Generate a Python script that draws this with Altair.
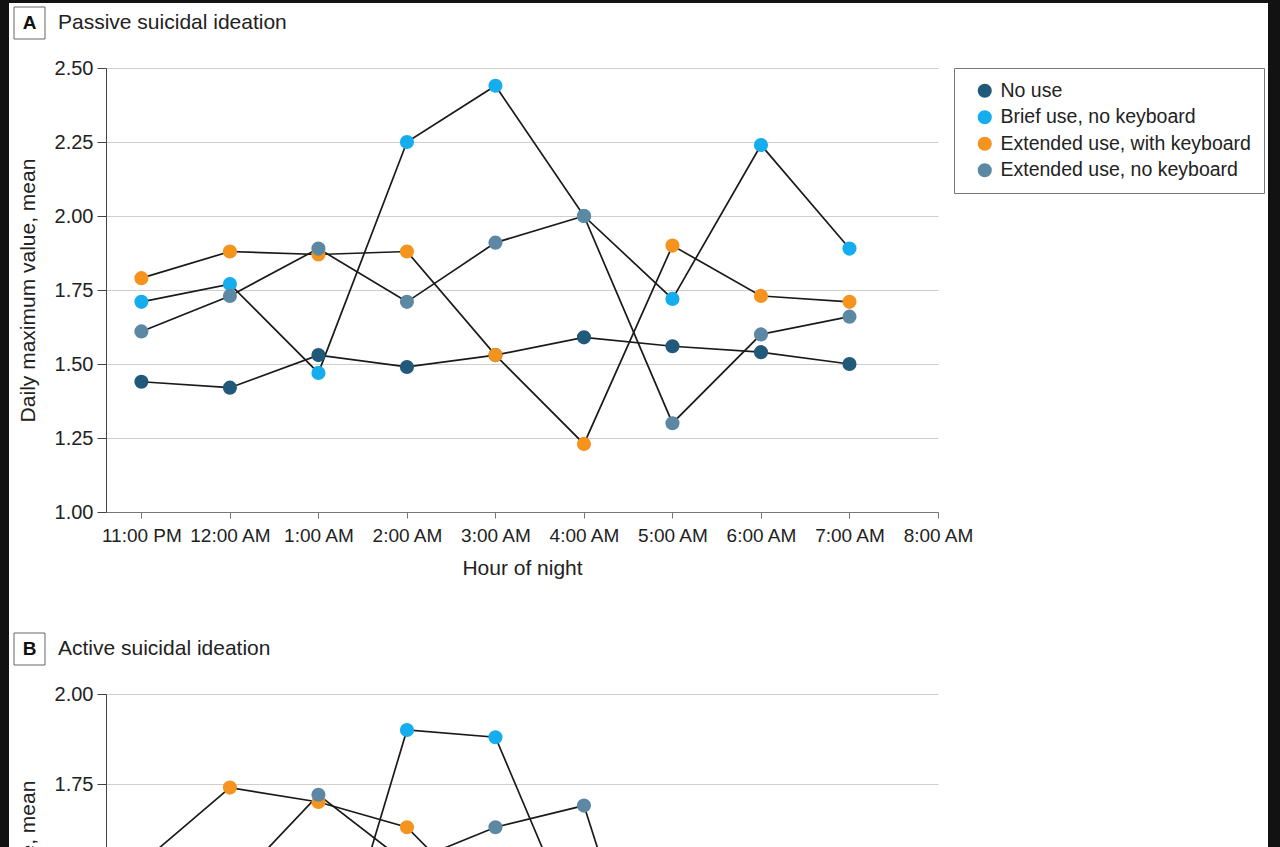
import altair as alt
import pandas as pd

# ---------------- data ----------------
hour_labels = ["11:00 PM", "12:00 AM", "1:00 AM", "2:00 AM", "3:00 AM",
               "4:00 AM", "5:00 AM", "6:00 AM", "7:00 AM", "8:00 AM"]
series_names = ["No use", "Brief use, no keyboard",
                "Extended use, with keyboard", "Extended use, no keyboard"]
series_colors = ["#21597a", "#15adee", "#f5931f", "#5d88a4"]

# Panel A: passive suicidal ideation (11 PM ... 7 AM)
passive_no_use = [1.44, 1.42, 1.53, 1.49, 1.53, 1.59, 1.56, 1.54, 1.50]
passive_brief = [1.71, 1.77, 1.47, 2.25, 2.44, 2.00, 1.72, 2.24, 1.89]
passive_ext_kb = [1.79, 1.88, 1.87, 1.88, 1.53, 1.23, 1.90, 1.73, 1.71]
passive_ext_nokb = [1.61, 1.73, 1.89, 1.71, 1.91, 2.00, 1.30, 1.60, 1.66]

# Panel B: active suicidal ideation (lower part is outside the picture; estimated)
active_no_use = [1.20, 1.18, 1.25, 1.22, 1.28, 1.30, 1.27, 1.29, 1.24]
active_brief = [1.35, 1.40, 1.08, 1.90, 1.88, 1.30, 1.25, 1.45, 1.35]
active_ext_kb = [1.53, 1.74, 1.70, 1.63, 1.38, 1.10, 1.40, 1.30, 1.28]
active_ext_nokb = [1.35, 1.46, 1.72, 1.53, 1.63, 1.69, 0.92, 1.20, 1.25]

y_ticks_a = [1.00, 1.25, 1.50, 1.75, 2.00, 2.25, 2.50]
y_ticks_b = [0.75, 1.00, 1.25, 1.50, 1.75, 2.00]

panel_a_letter = "A"
panel_a_title = "Passive suicidal ideation"
panel_b_letter = "B"
panel_b_title = "Active suicidal ideation"
x_title = "Hour of night"
y_title = "Daily maximum value, mean"

FONT = "Liberation Sans, Arial, sans-serif"
FRAME = "#121212"


def make_df(series_lists):
    rows = []
    for name, vals in zip(series_names, series_lists):
        for i, v in enumerate(vals):
            rows.append({"hour": i, "series": name, "value": v})
    return pd.DataFrame(rows)


label_expr = "[" + ",".join("'" + s + "'" for s in hour_labels) + "][datum.value]"


def panel(df, y_domain, y_ticks, letter, title, height, show_legend,
          frame_top, frame_bottom, top_strip, y_title_pos):
    x_enc = alt.X(
        "hour:Q",
        scale=alt.Scale(domain=[-0.4, 9], nice=False, zero=False),
        axis=alt.Axis(values=list(range(len(hour_labels))), labelExpr=label_expr,
                      labelOverlap=False, labelFlush=False, grid=False,
                      title=x_title, tickSize=6, labelPadding=8, titlePadding=12,
                      domainColor="#777", tickColor="#777", labelFontSize=19,
                      titleFontSize=21, labelColor="#222", titleColor="#222",
                      titleFontWeight="normal"),
    )
    y_enc = alt.Y(
        "value:Q",
        scale=alt.Scale(domain=y_domain, nice=False, zero=False),
        axis=alt.Axis(values=y_ticks, format=".2f", title=y_title,
                      gridColor="#cfcfcf", gridWidth=1, tickSize=9, labelPadding=4,
                      titlePadding=16, titleY=y_title_pos, domainColor="#444",
                      tickColor="#444", labelFontSize=20, titleFontSize=21,
                      labelColor="#222", titleColor="#222",
                      titleFontWeight="normal"),
    )
    base = alt.Chart(df)
    lines = base.mark_line(color="#1a1a1a", strokeWidth=1.7).encode(
        x=x_enc, y=y_enc, detail="series:N", order="hour:Q")
    if show_legend:
        legend = alt.Legend(title=None, orient="right", offset=16, padding=13,
                            strokeColor="#777", fillColor="white",
                            labelFontSize=19.5, labelColor="#222", symbolSize=200,
                            symbolType="circle", symbolStrokeWidth=0,
                            symbolOffset=8, labelOffset=6, rowPadding=5.5,
                            labelLimit=400)
    else:
        legend = None
    color_enc = alt.Color("series:N",
                          scale=alt.Scale(domain=series_names, range=series_colors),
                          sort=series_names, legend=legend)
    points = base.mark_circle(size=200, opacity=1).encode(
        x=alt.X("hour:Q"), y=alt.Y("value:Q"), color=color_enc)

    hdr = pd.DataFrame({"letter": [letter], "title": [title]})
    hbase = alt.Chart(hdr)
    box = hbase.mark_rect(fill="white", stroke="#666", strokeWidth=1).encode(
        x=alt.value(-92), x2=alt.value(-61), y=alt.value(-61), y2=alt.value(-29))
    let = hbase.mark_text(fontSize=19, fontWeight="bold", align="center",
                          baseline="middle", color="#111").encode(
        x=alt.value(-76.5), y=alt.value(-45), text="letter:N")
    ttl = hbase.mark_text(fontSize=21, align="left", baseline="middle",
                          color="#222").encode(
        x=alt.value(-48), y=alt.value(-45), text="title:N")

    # dark photo frame around the page (left / right / top edges)
    left_strip = hbase.mark_rect(fill=FRAME).encode(
        x=alt.value(-106), x2=alt.value(-97), y=alt.value(frame_top),
        y2=alt.value(frame_bottom))
    right_strip = hbase.mark_rect(fill=FRAME).encode(
        x=alt.value(1162), x2=alt.value(1174), y=alt.value(frame_top),
        y2=alt.value(frame_bottom))
    layers = [lines, points, box, let, ttl, left_strip, right_strip]
    if top_strip:
        layers.append(hbase.mark_rect(fill=FRAME).encode(
            x=alt.value(-106), x2=alt.value(1174), y=alt.value(frame_top),
            y2=alt.value(frame_top + 3)))

    return alt.layer(*layers).properties(width=832, height=height)


panel_a = panel(make_df([passive_no_use, passive_brief, passive_ext_kb, passive_ext_nokb]),
                [1.0, 2.5], y_ticks_a, panel_a_letter, panel_a_title, 444, True,
                -68, 563, True, 222)
panel_b = panel(make_df([active_no_use, active_brief, active_ext_kb, active_ext_nokb]),
                [0.75, 2.0], y_ticks_b, panel_b_letter, panel_b_title, 450, False,
                -63, 620, False, 218)

chart = alt.vconcat(panel_a, panel_b, spacing=0).resolve_scale(
    color="independent", x="independent", y="independent"
).properties(
    padding=0,
    background="white",
).configure(font=FONT).configure_view(stroke=None)

chart.save("out.html", embed_options={"renderer": "svg", "actions": False})
